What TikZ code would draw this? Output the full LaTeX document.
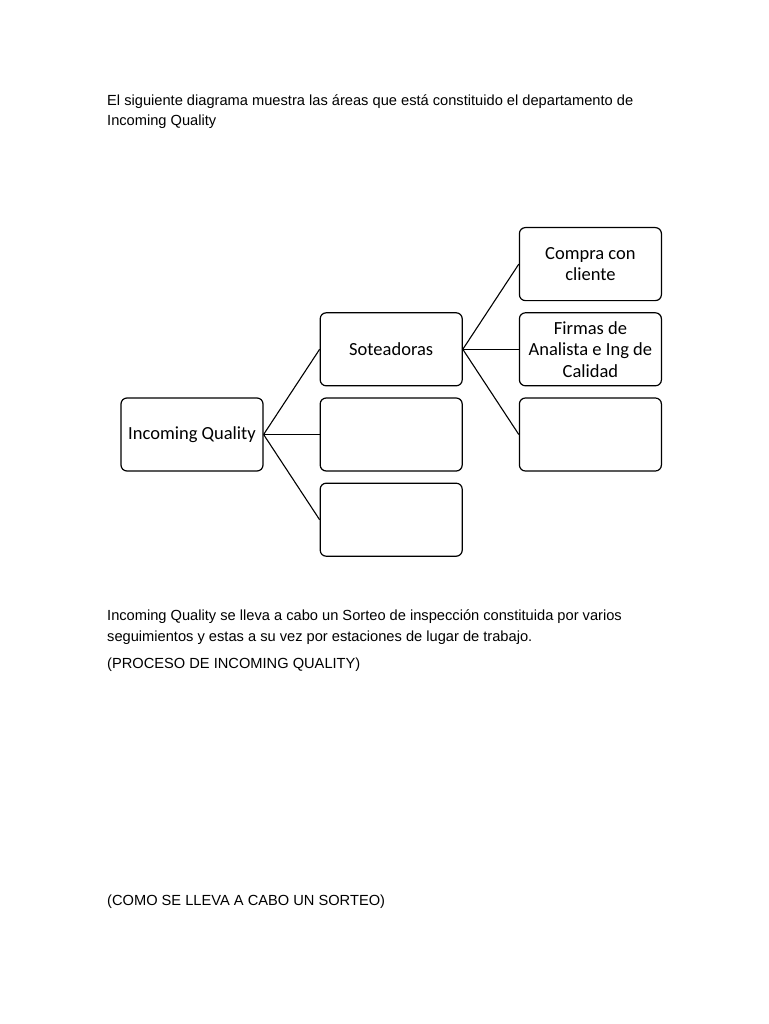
\documentclass[tikz,border=0pt]{standalone}
\usepackage{fontspec}
\setmainfont{Liberation Sans}
\newfontfamily\boxfont{Carlito}
\usetikzlibrary{positioning}

\tikzset{
  area/.style = {draw, rounded corners=6pt, line width=1.2pt, minimum width=142pt,
    minimum height=73pt, align=center, inner sep=2pt,
    font=\boxfont\fontsize{18.5}{21.5}\selectfont},
  txt/.style = {anchor=base west, inner sep=0pt, font=\fontsize{14.65}{16}\selectfont},
  link/.style = {line width=1.1pt}
}

\begin{document}
\begin{tikzpicture}[x=1pt, y=-1pt]
\useasboundingbox (0,0) rectangle (768,1024);

\node[txt] (intro1) at (107,106) {El siguiente diagrama muestra las áreas que está constituido el departamento de};
\node[txt] (intro2) at (107,126) {Incoming Quality};

\node[area] (iq) at (192,434.5) {Incoming Quality};
\node[area, right=56pt of iq] (mid2) {};
\node[area, above=11pt of mid2] (sot) {Soteadoras};
\node[area, below=11pt of mid2] (mid3) {};
\node[area, right=56pt of mid2] (der3) {};
\node[area, above=11pt of der3] (firmas) {Firmas de\\Analista e Ing de\\Calidad};
\node[area, above=11pt of firmas] (compra) {Compra con\\cliente};

\draw[link] (iq.east) -- (sot.west);
\draw[link] (iq.east) -- (mid2.west);
\draw[link] (iq.east) -- (mid3.west);
\draw[link] (sot.east) -- (compra.west);
\draw[link] (sot.east) -- (firmas.west);
\draw[link] (sot.east) -- (der3.west);

\node[txt] (para1) at (107,620) {Incoming Quality se lleva a cabo un Sorteo de inspección constituida por varios};
\node[txt] (para2) at (107,641) {seguimientos y estas a su vez por estaciones de lugar de trabajo.};
\node[txt] (proceso) at (107,668) {(PROCESO DE INCOMING QUALITY)};
\node[txt] (sorteo) at (107,905) {(COMO SE LLEVA A CABO UN SORTEO)};
\end{tikzpicture}
\end{document}
